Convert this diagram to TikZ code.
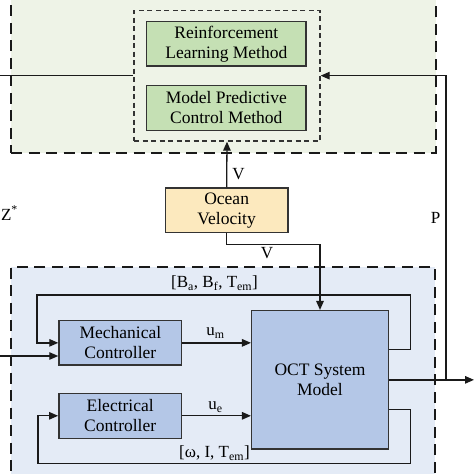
\documentclass[tikz,border=0pt]{standalone}
\usepackage{fontspec}
\setmainfont{Liberation Serif}
\usetikzlibrary{arrows.meta}
\definecolor{greenbg}{HTML}{EEF3E7}
\definecolor{greenbox}{HTML}{C5E0B4}
\definecolor{oceanfill}{HTML}{FCE9BE}
\definecolor{bluebg}{HTML}{E4EBF6}
\definecolor{bluebox}{HTML}{B4C7E7}
\definecolor{edge}{HTML}{333333}
\definecolor{wire}{HTML}{1A1A1A}
\tikzset{
  outerdash/.style={draw=black!90, line width=2.3pt, dash pattern=on 11pt off 6.5pt, inner sep=0pt},
  innerdash/.style={draw=edge, line width=1.3pt, dash pattern=on 5pt off 3.5pt, inner sep=0pt},
  blockbox/.style={draw=edge, line width=1.5pt, align=center, inner sep=0pt,
    font=\fontsize{17.5}{20}\selectfont},
  lbl/.style={inner sep=0pt, font=\fontsize{17}{20}\selectfont},
  wireline/.style={draw=wire, line width=1.3pt},
  arr/.style={wireline, -{Triangle[length=9pt,width=7.5pt]}},
}
\begin{document}
\begin{tikzpicture}[x=1pt,y=-1pt]
\clip (0,0) rectangle (474,474);
\fill[white] (0,0) rectangle (474,474);
% outer containers
\node[outerdash, fill=greenbg, minimum width=424.7pt, minimum height=182.7pt] (topgrp) at (223.35,61.35) {};
\node[outerdash, fill=bluebg, minimum width=423.7pt, minimum height=237pt] (botgrp) at (222.85,385.5) {};
% inner dashed group
\node[innerdash, minimum width=186pt, minimum height=130.7pt] (inner) at (227,75.65) {};
% blocks
\node[blockbox, fill=greenbox, minimum width=159.3pt, minimum height=44.3pt] (rl) at (226.35,43.85) {Reinforcement\\Learning Method};
\node[blockbox, fill=greenbox, minimum width=159.3pt, minimum height=44.6pt] (mpc) at (226.35,108) {Model Predictive\\Control Method};
\node[blockbox, fill=oceanfill, minimum width=122.7pt, minimum height=44.7pt] (ocean) at (226.65,210.35) {Ocean\\Velocity};
\node[blockbox, fill=bluebox, minimum width=122.7pt, minimum height=44.3pt] (mech) at (120.35,342.85) {Mechanical\\Controller};
\node[blockbox, fill=bluebox, minimum width=122.7pt, minimum height=45pt] (elec) at (120.2,415.8) {Electrical\\Controller};
\node[blockbox, fill=bluebox, minimum width=136.6pt, minimum height=138.3pt] (oct) at (320,379.85) {OCT System\\Model};
% free ends
\coordinate (zin) at (0,75.65);
\coordinate (uin) at (0,356);
\coordinate (pout) at (474,379.85);
\coordinate (pj) at (446,379.85);
% connectors
\draw[wireline] (zin) -- (inner.west);
\draw[arr] (pj) |- (inner.east);
\draw[arr] (ocean.north) -- (inner.south);
\draw[arr] (ocean.south) -- ++(0,11.3) -| (oct.north);
\draw[arr] (oct.east) -- (pout);
\draw[arr] ([yshift=30.6pt]oct.east) -- ++(21.7,0) |- (37,295) |- (mech.west);
\draw[arr] (uin) -- (mech.west |- uin);
\draw[arr] (mech.east) -- (oct.west |- mech.east);
\draw[arr] (elec.east) -- (oct.west |- elec.east);
\draw[arr] ([yshift=-29.4pt]oct.east) -- ++(21.7,0) |- (38,463.3) |- (elec.west);
% labels
\node[lbl] (lv1) at (238.5,174) {V};
\node[lbl] (lv2) at (267,253) {V};
\node[lbl] (lz) at (9.5,213) {Z\textsuperscript{*}};
\node[lbl] (lp) at (435.5,218) {P};
\node[lbl] (lb) at (214.5,283) {[B\textsubscript{a}, B\textsubscript{f}, T\textsubscript{em}]};
\node[lbl] (lum) at (215.5,333) {u\textsubscript{m}};
\node[lbl] (lue) at (215.5,407) {u\textsubscript{e}};
\node[lbl] (lw) at (214.5,453) {[ω, I, T\textsubscript{em}]};
\end{tikzpicture}
\end{document}
